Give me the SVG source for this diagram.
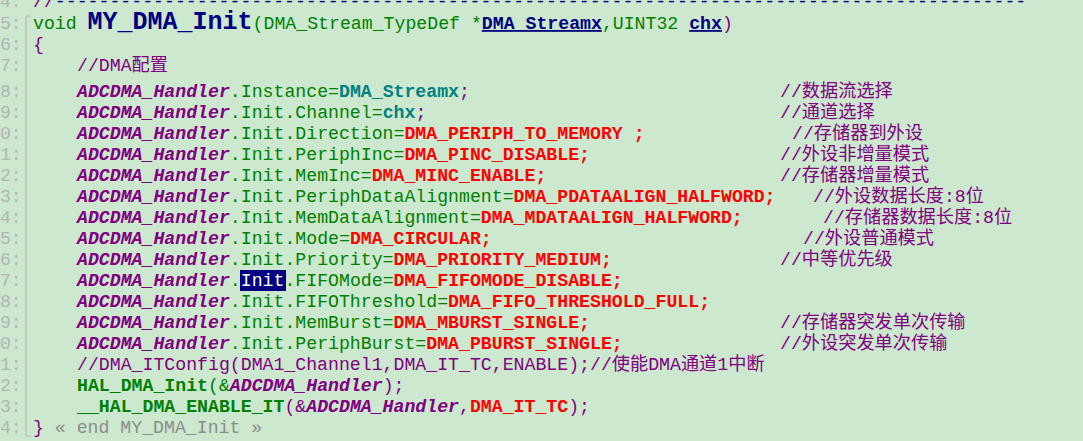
<svg xmlns="http://www.w3.org/2000/svg" width="1083" height="441" viewBox="0 0 1083 441">
<style>
text{font-family:"Liberation Mono","Noto Sans CJK SC",monospace;font-size:18.2px;white-space:pre}
.ln{fill:#b4b4b4}
.g{fill:#008000}
.h{fill:#800080;font-weight:bold;font-style:italic}
.r{fill:#ff0000;font-weight:bold}
.t{fill:#008080;font-weight:bold}
.p{fill:#800080}
.c{fill:#800080}
.gb{fill:#008000;font-weight:bold}
.n{fill:#000080;font-weight:bold}
.gr{fill:#8c8c8c}
</style>
<rect width="1083" height="441" fill="#cce8cf"/>
<g id="gutter">
<line x1="26" y1="16" x2="26" y2="436" stroke="#b4b4b4" stroke-width="1"/>
<line x1="26" y1="16" x2="31" y2="16" stroke="#b4b4b4"/>
<line x1="26" y1="436" x2="31" y2="436" stroke="#b4b4b4"/>
<text class="ln" x="-11" y="7">14:</text>
<text class="ln" x="-11" y="29">15:</text>
<text class="ln" x="-11" y="50">16:</text>
<text class="ln" x="-11" y="71">17:</text>
<text class="ln" x="-11" y="97">18:</text>
<text class="ln" x="-11" y="118">19:</text>
<text class="ln" x="-11" y="139">20:</text>
<text class="ln" x="-11" y="160">21:</text>
<text class="ln" x="-11" y="181">22:</text>
<text class="ln" x="-11" y="202">23:</text>
<text class="ln" x="-11" y="223">24:</text>
<text class="ln" x="-11" y="244">25:</text>
<text class="ln" x="-11" y="265">26:</text>
<text class="ln" x="-11" y="286">27:</text>
<text class="ln" x="-11" y="307">28:</text>
<text class="ln" x="-11" y="328">29:</text>
<text class="ln" x="-11" y="349">30:</text>
<text class="ln" x="-11" y="370">31:</text>
<text class="ln" x="-11" y="391">32:</text>
<text class="ln" x="-11" y="412">33:</text>
<text class="ln" x="-11" y="433">34:</text>
</g>
<g id="code">
<text x="33" y="7" class="c">//<tspan fill="#000080">-----------------------------------------------------------------------------------------</tspan></text>
<text x="33" y="29"><tspan class="g">void </tspan><tspan class="n" style="font-size:25px">MY_DMA_Init</tspan><tspan class="g">(DMA_Stream_TypeDef *</tspan><tspan class="n" text-decoration="underline">DMA_Streamx</tspan><tspan class="g">,UINT32 </tspan><tspan class="n" text-decoration="underline">chx</tspan><tspan class="p">)</tspan></text>
<text x="33" y="50" class="p">{</text>
<text x="77" y="71" class="c">//DMA配置</text>
<text x="77" y="97"><tspan class="h">ADCDMA_Handler</tspan><tspan class="g">.Instance=</tspan><tspan class="t">DMA_Streamx</tspan><tspan class="p">;</tspan></text>
<text x="77" y="118"><tspan class="h">ADCDMA_Handler</tspan><tspan class="g">.Init.Channel=</tspan><tspan class="t">chx</tspan><tspan class="p">;</tspan></text>
<text x="77" y="139"><tspan class="h">ADCDMA_Handler</tspan><tspan class="g">.Init.Direction=</tspan><tspan class="r">DMA_PERIPH_TO_MEMORY ;</tspan></text>
<text x="77" y="160"><tspan class="h">ADCDMA_Handler</tspan><tspan class="g">.Init.PeriphInc=</tspan><tspan class="r">DMA_PINC_DISABLE;</tspan></text>
<text x="77" y="181"><tspan class="h">ADCDMA_Handler</tspan><tspan class="g">.Init.MemInc=</tspan><tspan class="r">DMA_MINC_ENABLE;</tspan></text>
<text x="77" y="202"><tspan class="h">ADCDMA_Handler</tspan><tspan class="g">.Init.PeriphDataAlignment=</tspan><tspan class="r">DMA_PDATAALIGN_HALFWORD;</tspan></text>
<text x="77" y="223"><tspan class="h">ADCDMA_Handler</tspan><tspan class="g">.Init.MemDataAlignment=</tspan><tspan class="r">DMA_MDATAALIGN_HALFWORD;</tspan></text>
<text x="77" y="244"><tspan class="h">ADCDMA_Handler</tspan><tspan class="g">.Init.Mode=</tspan><tspan class="r">DMA_CIRCULAR;</tspan></text>
<text x="77" y="265"><tspan class="h">ADCDMA_Handler</tspan><tspan class="g">.Init.Priority=</tspan><tspan class="r">DMA_PRIORITY_MEDIUM;</tspan></text>
<rect x="240" y="270" width="46" height="21" fill="#000080"/>
<text x="77" y="286"><tspan class="h">ADCDMA_Handler</tspan><tspan class="g">.</tspan><tspan fill="#ffffff">Init</tspan><tspan class="g">.FIFOMode=</tspan><tspan class="r">DMA_FIFOMODE_DISABLE;</tspan></text>
<text x="77" y="307"><tspan class="h">ADCDMA_Handler</tspan><tspan class="g">.Init.FIFOThreshold=</tspan><tspan class="r">DMA_FIFO_THRESHOLD_FULL;</tspan></text>
<text x="77" y="328"><tspan class="h">ADCDMA_Handler</tspan><tspan class="g">.Init.MemBurst=</tspan><tspan class="r">DMA_MBURST_SINGLE;</tspan></text>
<text x="77" y="349"><tspan class="h">ADCDMA_Handler</tspan><tspan class="g">.Init.PeriphBurst=</tspan><tspan class="r">DMA_PBURST_SINGLE;</tspan></text>
<text x="77" y="370" class="c">//DMA_ITConfig(DMA1_Channel1,DMA_IT_TC,ENABLE);//使能DMA通道1中断</text>
<text x="77" y="391"><tspan class="gb">HAL_DMA_Init</tspan><tspan class="g">(&amp;</tspan><tspan class="h">ADCDMA_Handler</tspan><tspan class="p">);</tspan></text>
<text x="77" y="412"><tspan class="gb">__HAL_DMA_ENABLE_IT</tspan><tspan class="p">(&amp;</tspan><tspan class="h">ADCDMA_Handler</tspan><tspan class="p">,</tspan><tspan class="r">DMA_IT_TC</tspan><tspan class="p">);</tspan></text>
<text x="33" y="433"><tspan class="p">}</tspan><tspan class="gr"> « end MY_DMA_Init »</tspan></text>
</g>
<g id="comments" class="c">
<text x="780" y="97" class="c">//数据流选择</text>
<text x="780" y="118" class="c">//通道选择</text>
<text x="792" y="139" class="c">//存储器到外设</text>
<text x="780" y="160" class="c">//外设非增量模式</text>
<text x="780" y="181" class="c">//存储器增量模式</text>
<text x="813" y="202" class="c">//外设数据长度:8位</text>
<text x="823" y="223" class="c">//存储器数据长度:8位</text>
<text x="803" y="244" class="c">//外设普通模式</text>
<text x="780" y="265" class="c">//中等优先级</text>
<text x="780" y="328" class="c">//存储器突发单次传输</text>
<text x="780" y="349" class="c">//外设突发单次传输</text>
</g>
</svg>
